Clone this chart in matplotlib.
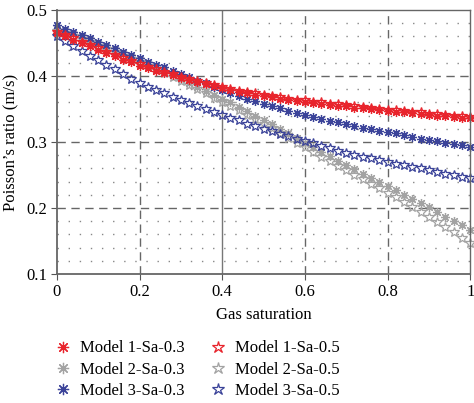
import numpy as np
import matplotlib
matplotlib.use("Agg")
import matplotlib.pyplot as plt

# gas saturation, 0 to 1 in steps of 0.02
gas_sat = [i / 50 for i in range(51)]

m1_sa03 = [0.466, 0.461, 0.455, 0.450, 0.445, 0.440, 0.435, 0.430, 0.425, 0.421, 0.416,
           0.412, 0.408, 0.405, 0.401, 0.397, 0.394, 0.391, 0.388, 0.385, 0.382,
           0.379, 0.376, 0.374, 0.372, 0.370, 0.368, 0.366, 0.364, 0.362, 0.361,
           0.359, 0.358, 0.356, 0.355, 0.354, 0.352, 0.351, 0.350, 0.348, 0.347,
           0.346, 0.345, 0.344, 0.343, 0.341, 0.340, 0.339, 0.338, 0.337, 0.336]
m1_sa05 = [0.467, 0.462, 0.457, 0.452, 0.447, 0.442, 0.437, 0.432, 0.427, 0.423, 0.418,
           0.414, 0.410, 0.406, 0.403, 0.399, 0.396, 0.393, 0.390, 0.387, 0.384,
           0.381, 0.378, 0.376, 0.374, 0.372, 0.370, 0.368, 0.366, 0.364, 0.363,
           0.361, 0.360, 0.358, 0.357, 0.356, 0.354, 0.353, 0.352, 0.350, 0.349,
           0.348, 0.347, 0.346, 0.345, 0.343, 0.342, 0.341, 0.340, 0.339, 0.338]
m2_sa03 = [0.472, 0.468, 0.463, 0.459, 0.454, 0.449, 0.444, 0.439, 0.434, 0.429, 0.424,
           0.419, 0.413, 0.408, 0.402, 0.396, 0.390, 0.384, 0.378, 0.372, 0.366,
           0.360, 0.353, 0.347, 0.340, 0.334, 0.327, 0.320, 0.313, 0.306, 0.299,
           0.292, 0.285, 0.279, 0.272, 0.265, 0.259, 0.252, 0.246, 0.239, 0.233,
           0.227, 0.220, 0.214, 0.207, 0.201, 0.194, 0.187, 0.181, 0.174, 0.167]
m2_sa05 = [0.469, 0.465, 0.460, 0.456, 0.451, 0.446, 0.441, 0.436, 0.431, 0.426, 0.421,
           0.415, 0.410, 0.404, 0.398, 0.392, 0.386, 0.380, 0.374, 0.367, 0.361,
           0.354, 0.348, 0.341, 0.335, 0.328, 0.321, 0.313, 0.306, 0.299, 0.292,
           0.285, 0.278, 0.271, 0.264, 0.257, 0.250, 0.244, 0.237, 0.230, 0.223,
           0.216, 0.209, 0.202, 0.194, 0.187, 0.179, 0.171, 0.163, 0.155, 0.147]
m3_sa03 = [0.477, 0.472, 0.467, 0.462, 0.457, 0.452, 0.447, 0.442, 0.437, 0.432, 0.427,
           0.422, 0.417, 0.413, 0.408, 0.403, 0.398, 0.393, 0.389, 0.384, 0.379,
           0.375, 0.370, 0.366, 0.362, 0.358, 0.354, 0.351, 0.347, 0.344, 0.341,
           0.338, 0.335, 0.332, 0.330, 0.327, 0.325, 0.322, 0.320, 0.317, 0.315,
           0.313, 0.310, 0.308, 0.305, 0.303, 0.301, 0.299, 0.297, 0.295, 0.293]
m3_sa05 = [0.461, 0.453, 0.446, 0.438, 0.431, 0.424, 0.417, 0.410, 0.403, 0.396, 0.390,
           0.384, 0.379, 0.374, 0.369, 0.364, 0.359, 0.355, 0.350, 0.346, 0.341,
           0.337, 0.333, 0.328, 0.324, 0.320, 0.316, 0.312, 0.309, 0.305, 0.301,
           0.298, 0.294, 0.291, 0.287, 0.284, 0.281, 0.278, 0.276, 0.273, 0.270,
           0.267, 0.265, 0.262, 0.260, 0.257, 0.255, 0.252, 0.250, 0.247, 0.245]

x_ticks = [0, 0.2, 0.4, 0.6, 0.8, 1]
x_tick_labels = ["0", "0.2", "0.4", "0.6", "0.8", "1"]
y_ticks = [0.1, 0.2, 0.3, 0.4, 0.5]

RED = "#e8242c"
GRAY = "#a3a3a3"
BLUE = "#3b4399"
ASTER = (8, 2, 0)

plt.rcParams["font.family"] = ["Liberation Serif", "DejaVu Serif"]
plt.rcParams["font.size"] = 12

fig = plt.figure(figsize=(4.74, 4.03), dpi=100)
ax = fig.add_axes([0.120, 0.320, 0.872, 0.655])

# grid: dotted minor rows, dashed majors, solid line at 0.4
for y in np.arange(0.12, 0.5, 0.02):
    if abs(round(y * 10) - y * 10) > 1e-6:
        ax.axhline(y, color="#888888", lw=1.0, ls=(0, (1, 7)), zorder=0)
for y in [0.2, 0.3, 0.4]:
    ax.axhline(y, color="#666666", lw=1.0, ls=(0, (6, 4)), zorder=0)
for x in [0.2, 0.6, 0.8]:
    ax.axvline(x, color="#666666", lw=1.0, ls=(0, (6, 4)), zorder=0)
ax.axvline(0.4, color="#777777", lw=1.0, zorder=0)

series = [
    (m2_sa03, GRAY, ASTER, "Model 2-Sa-0.3"),
    (m2_sa05, GRAY, "*", "Model 2-Sa-0.5"),
    (m3_sa03, BLUE, ASTER, "Model 3-Sa-0.3"),
    (m3_sa05, BLUE, "*", "Model 3-Sa-0.5"),
    (m1_sa03, RED, ASTER, "Model 1-Sa-0.3"),
    (m1_sa05, RED, "*", "Model 1-Sa-0.5"),
]
handles = {}
for vals, col, mk, lab in series:
    if mk == "*":
        h, = ax.plot(gas_sat, vals, ls="none", marker=mk, ms=7, mfc="none",
                     mec=col, mew=0.9, label=lab, clip_on=False)
    else:
        h, = ax.plot(gas_sat, vals, ls="none", marker=mk, ms=6.5, mec=col,
                     color=col, mew=0.9, label=lab, clip_on=False)
    handles[lab] = h

ax.set_xlim(0, 1)
ax.set_ylim(0.1, 0.5)
ax.set_xticks(x_ticks)
ax.set_xticklabels(x_tick_labels)
ax.set_yticks(y_ticks)
ax.tick_params(direction="out", length=4, color="#555555", pad=3)
for s in ax.spines.values():
    s.set_color("#666666")
    s.set_linewidth(1.0)
ax.spines["left"].set_linewidth(1.3)
ax.spines["bottom"].set_linewidth(1.3)

ax.set_xlabel("Gas saturation", labelpad=5)
ax.set_ylabel("Poisson’s ratio (m/s)", labelpad=5)

order = ["Model 1-Sa-0.3", "Model 2-Sa-0.3", "Model 3-Sa-0.3",
         "Model 1-Sa-0.5", "Model 2-Sa-0.5", "Model 3-Sa-0.5"]
fig.legend([handles[k] for k in order], order, ncol=2, frameon=False,
           loc="upper left", bbox_to_anchor=(0.102, 0.172),
           handlelength=1.0, handletextpad=0.5, columnspacing=1.5,
           labelspacing=0.32, borderaxespad=0, markerscale=1.25)

fig.savefig("out.png", dpi=100)
